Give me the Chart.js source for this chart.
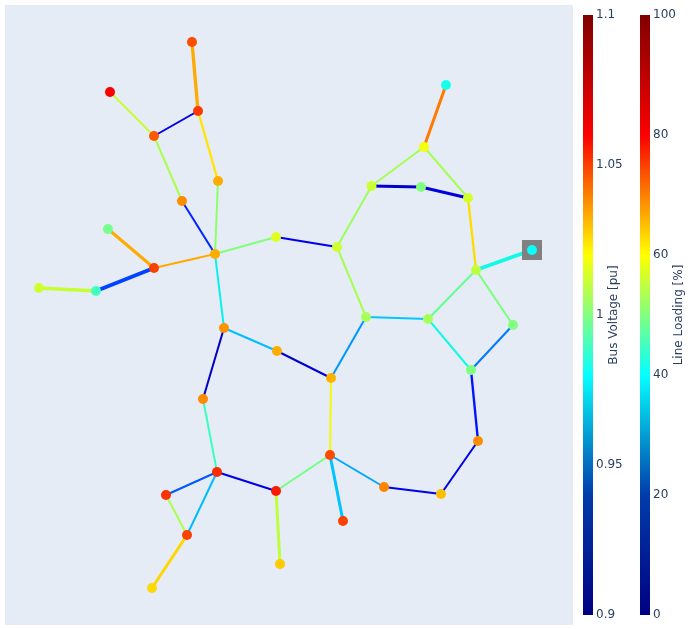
<!DOCTYPE html>
<html><head><meta charset="utf-8">
<script src="https://cdn.jsdelivr.net/npm/chart.js@4/dist/chart.umd.min.js"></script>
<style>
html,body{margin:0;padding:0;background:#fff;width:700px;height:629px;overflow:hidden}
canvas{position:absolute;top:0}
</style></head><body>
<canvas id="net" style="left:0" width="575" height="629"></canvas>
<canvas id="cbV" style="left:575px" width="57" height="629"></canvas>
<canvas id="cbL" style="left:632px" width="68" height="629"></canvas>
<script>
// ---------- data ----------
const busX = [192,198,110,154,218,182,215,276,337,108,154,96,39,446,424,371.5,421,468,532,476,366,428,513,471,224,277,331,203,478,330,217,276,166,384,441,343,187,280,152];
const busY = [42,111,92,136,181,201,254,237,247,229,268,291,288,85,147,186,187,198,250,270,317,319,325,370,328,351,378,399,441,455,472,491,495,487,494,521,535,564,588];
const busVoltage = [1.048,1.051,1.06,1.046,1.033,1.038,1.033,1.015,1.012,0.998,1.05,0.99,1.012,0.983,1.018,1.012,1.0,1.013,0.98,1.01,1.006,1.006,1.0,1.0,1.037,1.033,1.032,1.038,1.038,1.048,1.053,1.056,1.052,1.039,1.03,1.05,1.05,1.028,1.026];
const lineFrom = [0,1,1,2,3,4,5,6,7,6,9,10,11,6,8,8,15,14,14,15,16,17,19,19,19,20,21,22,23,28,33,29,29,29,26,25,24,24,27,30,31,31,30,30,32,36];
const lineTo   = [1,3,4,3,5,6,6,7,8,10,10,11,12,24,15,20,14,17,13,16,17,19,18,21,22,21,23,23,28,34,34,33,35,26,20,26,25,27,30,31,29,37,32,36,36,38];
const lineLoading = [73,8.5,66.7,59,55.7,52,16,50.5,9,73,73,19,59,36,54,55,55,55,78,7,8,67.7,37,47,50,32,37,24.3,14.5,9,9,28.7,31.6,64.5,27.2,7,31,6,42,9,49,58,21,31,55.7,68.3];
const externalGridBus = [18];
const voltageTicks = [0.9,0.95,1,1.05,1.1];
const loadingTicks = [0,20,40,60,80,100];
const voltageTitle = "Bus Voltage [pu]";
const loadingTitle = "Line Loading [%]";

// ---------- styles ----------
const lineWidths = [3.3,2,2.3,2,2,2,2,2,2,2,3,4,3.3,2,2,2,2,2,3,3.2,3.2,2.3,3.8,2,2,2.2,2,2,2.4,2,2,2,3,2,2,2,2,2,2,2,2,3,2,2,2,3];
const barStops = [[0,[0,0,131]],[0.2,[0,60,170]],[0.4,[5,255,255]],[0.6,[255,255,0]],[0.8,[250,0,0]],[1,[128,0,0]]];
const jetR=[[0,0],[.35,0],[.66,1],[.89,1],[1,.5]], jetG=[[0,0],[.125,0],[.375,1],[.64,1],[.91,0],[1,0]], jetB=[[0,.5],[.11,1],[.34,1],[.65,0],[1,0]];
const interp=(tbl,t)=>{for(let i=1;i<tbl.length;i++){if(t<=tbl[i][0]){const[a,b]=[tbl[i-1],tbl[i]];return b[1]===a[1]?a[1]:a[1]+(b[1]-a[1])*(t-a[0])/(b[0]-a[0]);}}return tbl[tbl.length-1][1];};
const lineColor=t=>`rgb(${Math.round(interp(jetR,t)*255)},${Math.round(interp(jetG,t)*255)},${Math.round(interp(jetB,t)*255)})`;
const nodeColor=t=>{for(let i=1;i<barStops.length;i++){if(t<=barStops[i][0]){const a=barStops[i-1],b=barStops[i],f=(t-a[0])/(b[0]-a[0]);return `rgb(${a[1].map((c,k)=>Math.round(c+(b[1][k]-c)*f)).join(',')})`;}}return 'rgb(128,0,0)';};

const FONT="'DejaVu Sans'", INK="#2a3f5f";
Chart.defaults.animation=false;

// ---------- network ----------
const edgeSets=lineFrom.map((f,i)=>({
  type:'scatter',showLine:true,order:2,
  data:[{x:busX[f],y:busY[f]},{x:busX[lineTo[i]],y:busY[lineTo[i]]}],
  borderColor:lineColor(lineLoading[i]/100),borderWidth:lineWidths[i],
  pointRadius:0,tension:0,fill:false
}));
const gridSet={type:'scatter',order:1,
  data:externalGridBus.map(b=>({x:busX[b],y:busY[b]})),
  pointStyle:'rect',pointRadius:14.14,backgroundColor:'#808080',borderWidth:0};
const nodeSet={type:'scatter',order:0,
  data:busX.map((x,i)=>({x,y:busY[i]})),
  pointRadius:5,borderWidth:0,
  backgroundColor:busVoltage.map(v=>nodeColor((v-0.9)/0.2))};
new Chart(document.getElementById('net'),{
  type:'scatter',
  data:{datasets:[nodeSet,gridSet,...edgeSets]},
  options:{responsive:false,devicePixelRatio:1,
    layout:{autoPadding:false,padding:{left:5,top:5,right:2,bottom:4}},
    plugins:{legend:{display:false},tooltip:{enabled:false}},
    scales:{x:{type:'linear',display:false,min:5,max:573},
            y:{type:'linear',display:false,min:5,max:625,reverse:true}}
  },
  plugins:[{id:'plotBg',beforeDraw(c){const a=c.chartArea,g=c.ctx;g.save();g.fillStyle='#E5ECF6';g.fillRect(a.left,a.top,a.width,a.height);g.restore();}}]
});

// ---------- colour bars ----------
function colorBar(id,ticks,title,axisWidth,titleLeft){
  const lo=ticks[0],hi=ticks[ticks.length-1];
  new Chart(document.getElementById(id),{
    type:'bar',
    data:{labels:[title],datasets:[{
      data:[[lo,hi]],borderWidth:0,barPercentage:1,categoryPercentage:1,
      backgroundColor(ctx){
        const a=ctx.chart.chartArea; if(!a) return '#000';
        const g=ctx.chart.ctx.createLinearGradient(0,a.bottom,0,a.top);
        barStops.forEach(s=>g.addColorStop(s[0],`rgb(${s[1].join(',')})`));
        return g;
      }}]},
    options:{responsive:false,devicePixelRatio:1,
      layout:{autoPadding:false,padding:{left:8,top:15,right:0,bottom:14}},
      plugins:{legend:{display:false},tooltip:{enabled:false}},
      scales:{
        x:{display:false},
        y:{position:'right',min:lo,max:hi,
          grid:{display:false,drawTicks:false},border:{display:false},
          afterBuildTicks(s){s.ticks=ticks.map(v=>({value:v}));},
          afterFit(s){s.width=axisWidth;},
          ticks:{padding:3,color:INK,font:{family:FONT,size:12},autoSkip:false,maxRotation:0,
            callback:v=>String(Number(v.toFixed(2)))}},
        t:{position:'left',min:lo,max:hi,
          grid:{display:false,drawTicks:false},border:{display:false},
          ticks:{display:false},afterFit(s){s.width=0;},
          title:{display:true,text:title,color:INK,padding:0,font:{family:FONT,size:12}}}
      }},
    plugins:[{id:'moveTitle',afterLayout(c){c.scales.t.left=titleLeft;c.scales.t.right=titleLeft;}}]
  });
}
colorBar('cbV',voltageTicks,voltageTitle,39,31.8);
colorBar('cbL',loadingTicks,loadingTitle,50,39.8);
</script></body></html>
